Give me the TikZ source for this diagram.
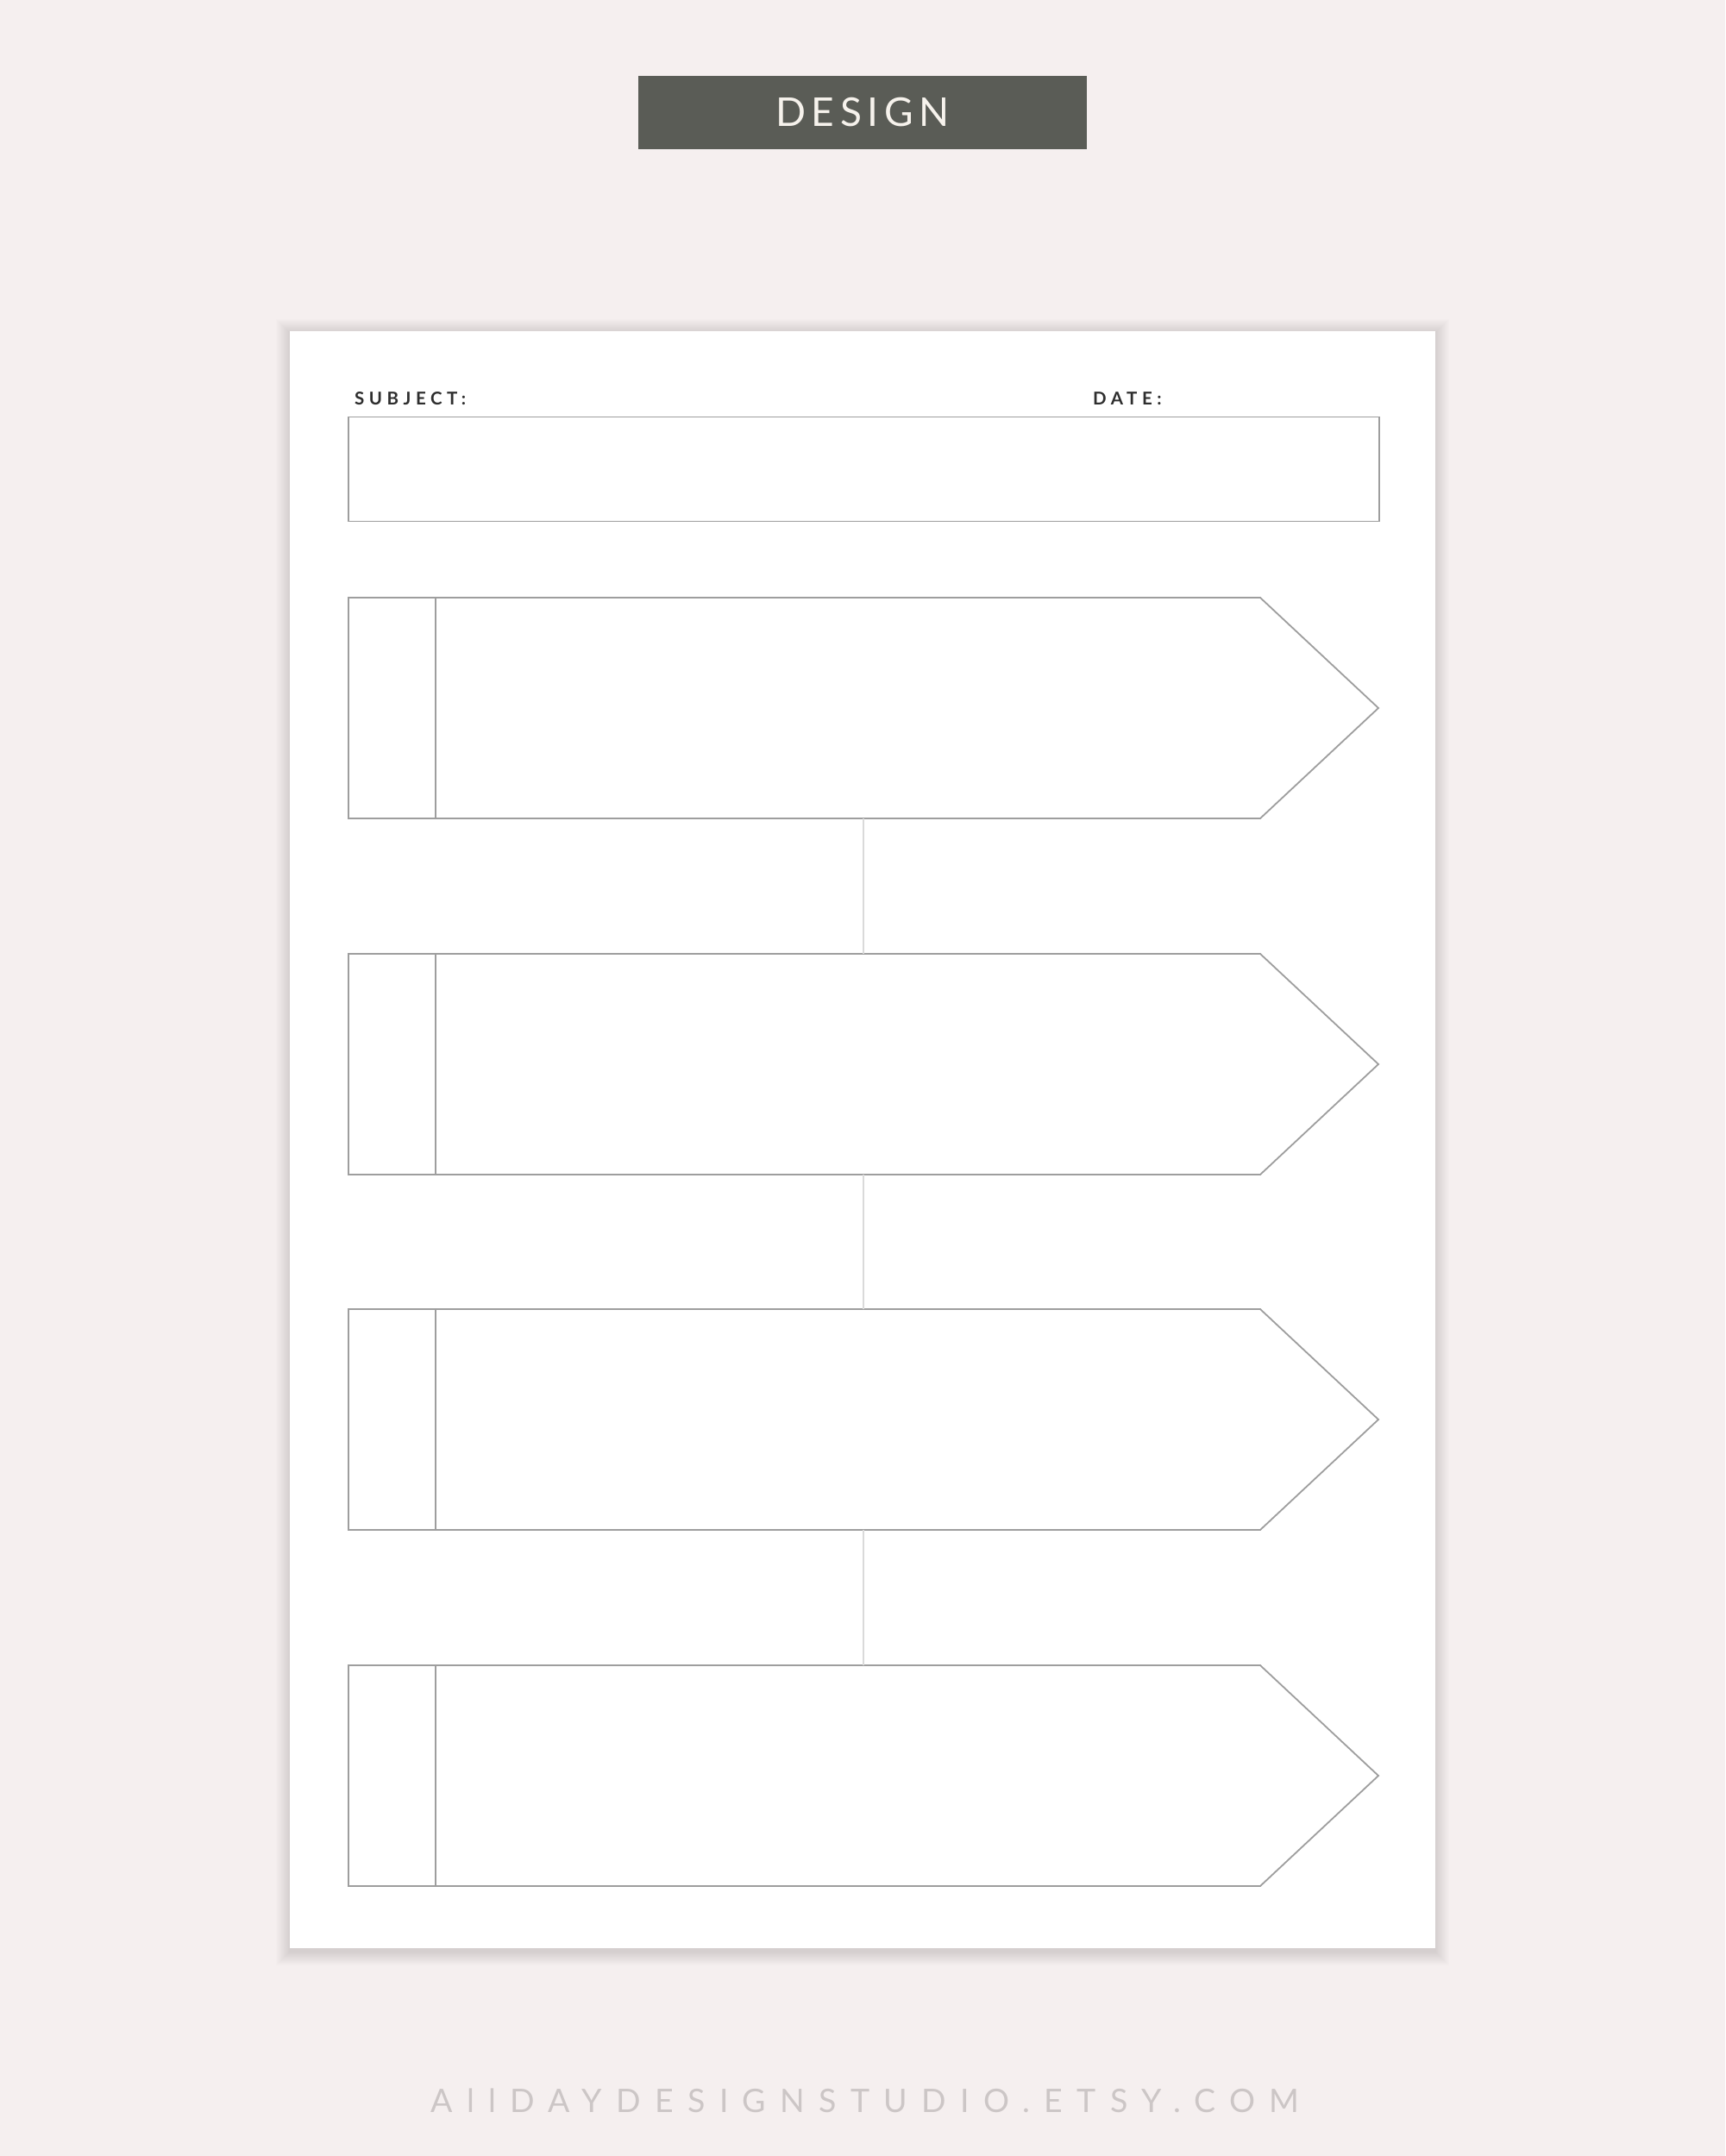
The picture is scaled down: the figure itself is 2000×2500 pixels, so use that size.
\documentclass[tikz,border=0pt]{standalone}
\usepackage{fontspec}
\setmainfont{Lato}
\newfontfamily\titlefont[LetterSpace=14.5]{Lato}
\newfontfamily\labelfont[LetterSpace=27]{Lato Bold}
\newfontfamily\footfont[LetterSpace=43.5]{Lato}
\usetikzlibrary{fit}
\definecolor{bg}{HTML}{F5EFEF}
\definecolor{titlebg}{HTML}{5A5C56}
\definecolor{titletxt}{HTML}{F6F2EC}
\definecolor{labeltxt}{HTML}{2E2E2E}
\definecolor{lineg}{HTML}{9E9E9E}
\definecolor{connc}{HTML}{DADADA}
\definecolor{foottxt}{HTML}{CCC6C6}
\definecolor{shadowc}{HTML}{5A4848}
\tikzset{
  outline/.style={draw=lineg, line width=1.8pt, line join=miter},
  connector/.style={draw=connc, line width=1.4pt},
  rowbox/.style={inner sep=0pt, minimum width=1194pt, minimum height=256pt},
  labeltext/.style={inner sep=0pt, text=labeltxt, font=\labelfont\fontsize{20.5}{24}\selectfont},
  shadowlayer/.style={fill=shadowc, fill opacity=0.010},
}
\begin{document}
\begin{tikzpicture}[x=1pt,y=-1pt]
\useasboundingbox (0,0) rectangle (2000,2500);
\fill[bg] (0,0) rectangle (2000,2500);
% title
\node (title) [fill=titlebg, inner sep=0pt, minimum width=520pt, minimum height=85pt, text=titletxt,
  font=\titlefont\fontsize{46}{50}\selectfont] at (1000,130.5) {DESIGN};
% page shadow
\coordinate (pnw) at (336,384);
\coordinate (pse) at (1664,2259);
\foreach \k in {1,...,16}{
  \fill[shadowlayer] ([shift={(-\k,-\k+2)}]pnw) rectangle ([shift={(\k,\k+4)}]pse);
}
% page
\node (page) [fill=white, inner sep=0pt, fit=(pnw)(pse)] {};
% labels
\node (subj) [labeltext, anchor=base west] at (411,469) {SUBJECT:};
\node (date) [labeltext, anchor=base west] at (1267,469) {DATE:};
% subject box
\node (sbox) [outline, inner sep=0pt, minimum width=1195pt, minimum height=121pt] at (1001.5,544) {};
% arrows
\foreach \i/\t in {1/693,2/1106,3/1518,4/1931}{
  \node (a\i) [rowbox] at (1001,\t+128) {};
  \draw[outline] (404,\t) -- (1461,\t) -- (1598,\t+128) -- (1461,\t+256) -- (404,\t+256) -- cycle;
  \draw[outline] (505,\t) -- (505,\t+256);
}
% connectors
\draw[connector] (a1.south) -- (a2.north);
\draw[connector] (a2.south) -- (a3.north);
\draw[connector] (a3.south) -- (a4.north);
% footer
\node (foot) [inner sep=0pt, anchor=base, text=foottxt, font=\footfont\fontsize{37.5}{40}\selectfont] at (1003,2449) {AllDAYDESIGNSTUDIO.ETSY.COM};
\end{tikzpicture}
\end{document}
